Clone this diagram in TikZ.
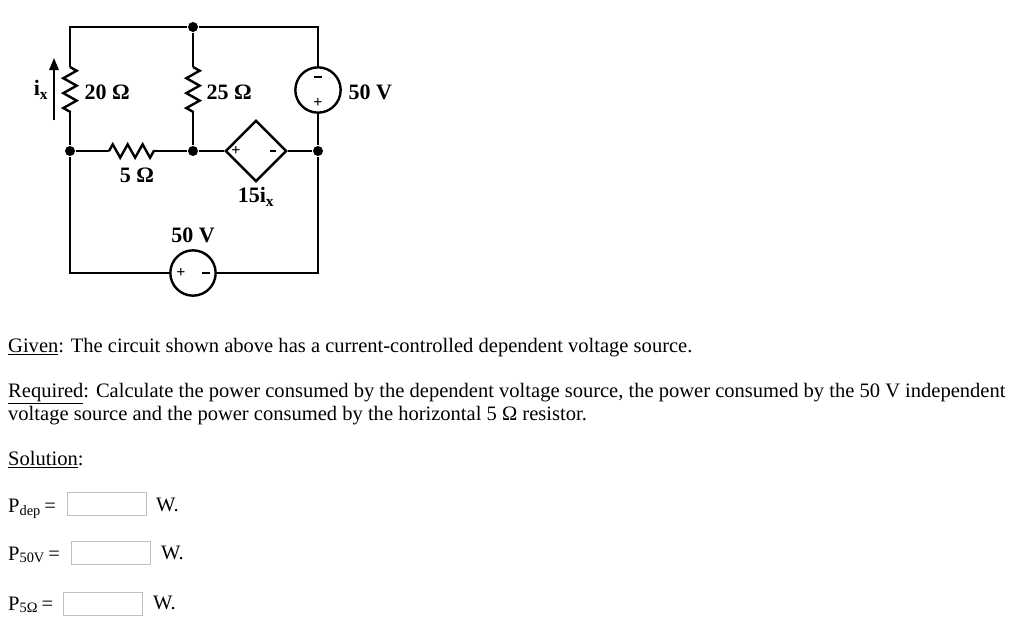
\documentclass[tikz,border=0pt]{standalone}
\usepackage{fontspec}
\setmainfont{Liberation Serif}
\usetikzlibrary{decorations.pathmorphing,shapes.geometric,arrows.meta,calc}
\begin{document}
\begin{tikzpicture}[x=0.75pt,y=-0.75pt,line width=1.8pt,
  res/.style={decorate,decoration={zigzag,segment length=11.2pt,amplitude=5pt,pre length=0pt,post length=0pt}},
  dot/.style={circle,fill,inner sep=0pt,minimum size=7.5pt},
  src/.style={circle,draw,line width=1.8pt,minimum size=34pt,inner sep=0pt},
  sg/.style={font=\fontsize{12pt}{12pt}\selectfont\bfseries,inner sep=0pt},
  mn/.style={fill,minimum width=6pt,minimum height=1.6pt,inner sep=0pt},
  lbl/.style={font=\fontsize{16.5pt}{18pt}\selectfont\bfseries,inner sep=1pt},
  txt/.style={font=\fontsize{15.4pt}{18pt}\selectfont,anchor=base west,inner sep=0pt},
  ans/.style={draw=black!25,line width=0.8pt,minimum width=59pt,minimum height=17pt,inner sep=0pt}]
\useasboundingbox (0,0) rectangle (1024,632);
% nodes
\coordinate (tl) at (70,27); \node[dot] (tm) at (193,27) {}; \coordinate (tr) at (318,27);
\node[dot] (ml) at (70,151) {}; \node[dot] (mm) at (193,151) {}; \node[dot] (mr) at (318,151) {};
\coordinate (bl) at (70,273); \coordinate (br) at (318,273);
\coordinate (r1a) at (70,67); \coordinate (r1b) at (70,112);
\coordinate (r2a) at (193,67); \coordinate (r2b) at (193,112);
\coordinate (r3a) at (109,151); \coordinate (r3b) at (155,151);
\node[src] (vr) at (318,90) {};
\node[src] (vb) at (193,273) {};
\node[diamond,draw,line width=1.8pt,minimum width=46pt,minimum height=46pt,inner sep=0pt] (dep) at (256,151) {};
% wires
\draw (r1a) -- (tl) -- (tm) -- (tr) -- (vr.north);
\draw[res] (r1a) -- (r1b);
\draw (r1b) -- (ml) -- (r3a);
\draw[res] (r3a) -- (r3b);
\draw (r3b) -- (mm) -- (dep.west);
\draw (tm) -- (r2a); \draw[res] (r2a) -- (r2b); \draw (r2b) -- (mm);
\draw (dep.east) -- (mr) -- (vr.south);
\draw (ml) -- (bl) -- (vb.west); \draw (vb.east) -- (br) -- (mr);
% signs
\node[mn] at ($(vr)+(0,-13)$) {};
\node[sg] at ($(vr)+(0,13)$) {+};
\node[sg] at ($(vb)+(-12,0)$) {+};
\node[mn] at ($(vb)+(13,0)$) {};
\node[sg] at ($(dep)+(-20,0)$) {+};
\node[mn,minimum width=5pt] at ($(dep)+(17,0)$) {};
% arrow
\coordinate (ia) at (54,120); \coordinate (ib) at (54,58);
\draw[line width=1.4pt,-{Triangle[length=9pt,width=7pt]}] (ia) -- (ib);
% labels
\node[lbl] (lix) at (41,90) {i\textsubscript{x}};
\node[lbl,anchor=west] (l20) at (82,92) {20 Ω};
\node[lbl,anchor=west] (l25) at (204,92) {25 Ω};
\node[lbl,anchor=west] (l50r) at (346,92) {50 V};
\node[lbl] (l5) at (137,175) {5 Ω};
\node[lbl] (ldep) at (256,197) {15i\textsubscript{x}};
\node[lbl] (l50b) at (193,235) {50 V};
% text
\node[txt] (g) at (7,352) {\underline{Given}: The circuit shown above has a current-controlled dependent voltage source.};
\node[txt] (r1) at (7,397) {\underline{Required}: Calculate the power consumed by the dependent voltage source, the power consumed by the 50 V independent};
\node[txt] (r2) at (7,420) {voltage source and the power consumed by the horizontal 5 Ω resistor.};
\node[txt] (s) at (7,465) {\underline{Solution}:};
\node[txt] (p1) at (7,512) {P\textsubscript{dep}\,=};
\node[ans] (b1) at (107,504) {};
\node[txt] (w1) at (155,511) {W.};
\node[txt] (p2) at (7,560) {P\textsubscript{50V}\,=};
\node[ans] (b2) at (111,553) {};
\node[txt] (w2) at (160,559) {W.};
\node[txt] (p3) at (7,610) {P\textsubscript{5Ω}\,=};
\node[ans] (b3) at (103,604) {};
\node[txt] (w3) at (152,609) {W.};
\end{tikzpicture}
\end{document}
